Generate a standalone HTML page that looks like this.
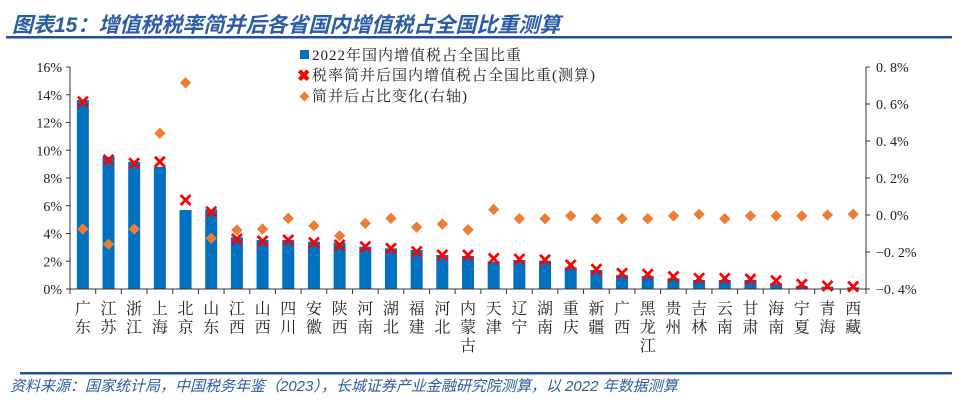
<!DOCTYPE html>
<html><head><meta charset="utf-8"><style>
body{margin:0;background:#fff;width:960px;height:405px;overflow:hidden}
svg text{font-family:"Liberation Serif","Noto Serif CJK SC",serif}
</style></head><body>
<svg width="960" height="405">
<text x="12" y="32" font-size="21" font-style="italic" font-weight="bold" fill="#2a5ca8" style="font-family:'Liberation Sans','Noto Sans CJK SC',sans-serif">图表15：增值税税率简并后各省国内增值税占全国比重测算</text>
<rect x="6" y="36" width="946" height="2.5" fill="#1f4e9c"/>
<g id="plot"></g>
<g>
<g><rect x="300" y="50" width="9" height="9" fill="#0070c0"/><text x="312" y="60" font-size="15" fill="#222" letter-spacing="1">2022年国内增值税占全国比重</text></g>
<g><text x="297" y="81" font-size="16" font-weight="bold" fill="#ff0000">✖</text><text x="312" y="80" font-size="15" fill="#222" letter-spacing="1">税率简并后国内增值税占全国比重(测算)</text></g>
<g><rect x="301" y="93" width="7" height="7" fill="#ed7d31" transform="rotate(45 304.5 96.5)"/><text x="312" y="101" font-size="15" fill="#222" letter-spacing="1">简并后占比变化(右轴)</text></g>
</g>
<rect x="20" y="372" width="932" height="2.5" fill="#1f4e9c"/>
<text x="10" y="391" font-size="15" font-style="italic" fill="#2a5ca8" style="font-family:'Liberation Sans','Noto Sans CJK SC',sans-serif">资料来源：国家统计局，中国税务年鉴（2023），长城证券产业金融研究院测算，以 2022 年数据测算</text>
</svg>
<script>
const categories=["广东","江苏","浙江","上海","北京","山东","江西","山西","四川","安徽","陕西","河南","湖北","福建","河北","内蒙古","天津","辽宁","湖南","重庆","新疆","广西","黑龙江","贵州","吉林","云南","甘肃","海南","宁夏","青海","西藏"];
const share2022=[13.62,9.53,9.17,8.81,5.69,5.74,3.73,3.53,3.53,3.41,3.34,3.05,2.93,2.81,2.45,2.38,1.97,2.09,2.04,1.56,1.37,1.0,0.94,0.77,0.65,0.65,0.65,0.41,0.22,0.17,0.12];
const shareAfter=[13.5,9.3,9.06,9.17,6.41,5.57,3.6,3.46,3.53,3.34,3.17,3.05,2.93,2.69,2.45,2.45,2.2,2.15,2.1,1.73,1.42,1.13,1.06,0.89,0.77,0.77,0.72,0.6,0.34,0.22,0.17];
const changePct=[-0.076,-0.158,-0.076,0.442,0.715,-0.126,-0.081,-0.076,-0.018,-0.058,-0.112,-0.045,-0.018,-0.066,-0.049,-0.08,0.03,-0.02,-0.02,-0.005,-0.02,-0.02,-0.02,-0.005,0.004,-0.02,-0.005,-0.005,-0.005,0,0.004];
const leftTicks=[0,2,4,6,8,10,12,14,16];
const rightTicks=[-0.4,-0.2,0,0.2,0.4,0.6,0.8];
const NS="http://www.w3.org/2000/svg";
const X0=70,X1=866,Y0=289,Y1=67;
const band=(X1-X0)/categories.length;
const xc=i=>X0+band*(i+0.5);
const yL=v=>Y0-(v/16)*(Y0-Y1);
const yR=v=>Y0-((v+0.4)/1.2)*(Y0-Y1);
const g=document.getElementById('plot');
function mk(t,a){const e=document.createElementNS(NS,t);for(const k in a)e.setAttribute(k,a[k]);g.appendChild(e);return e;}
share2022.forEach((v,i)=>{const e=mk('rect',{x:xc(i)-6,y:yL(v),width:12,height:Y0-yL(v),fill:'#0070c0'});

});
let a=mk('line',{x1:X0,y1:Y1,x2:X0,y2:Y0,stroke:'#333','stroke-width':1});


a=mk('line',{x1:X1,y1:Y1,x2:X1,y2:Y0,stroke:'#333','stroke-width':1});


a=mk('line',{x1:X0,y1:Y0,x2:X1,y2:Y0,stroke:'#333','stroke-width':1});


leftTicks.forEach(v=>{mk('line',{x1:X0-4,y1:yL(v),x2:X0,y2:yL(v),stroke:'#333'});
const t=mk('text',{x:X0-8,y:yL(v)+5,'font-size':14,'text-anchor':'end',fill:'#222'});t.textContent=v+'%';

});
rightTicks.forEach(v=>{mk('line',{x1:X1,y1:yR(v),x2:X1+4,y2:yR(v),stroke:'#333'});
const t=mk('text',{x:X1+10,y:yR(v)+5,'font-size':14,fill:'#222'});t.textContent=(v<0?'−':'')+Math.abs(v).toFixed(1).replace('.','. ')+'%';

});
for(let i=0;i<=categories.length;i++)mk('line',{x1:X0+band*i,y1:Y0,x2:X0+band*i,y2:Y0+5,stroke:'#333'});
categories.forEach((c,i)=>{[...c].forEach((ch,j)=>{const t=mk('text',{x:xc(i),y:314+j*18.5,'font-size':16,'text-anchor':'middle',fill:'#222'});t.textContent=ch;

});});
changePct.forEach((v,i)=>{const e=mk('rect',{x:xc(i)-4,y:yR(v)-4,width:8,height:8,fill:'#ed7d31',transform:`rotate(45 ${xc(i)} ${yR(v)})`});

});
shareAfter.forEach((v,i)=>{const x=xc(i),y=yL(v);const e=mk('path',{d:`M${x-5} ${y-5}L${x+5} ${y+5}M${x+5} ${y-5}L${x-5} ${y+5}`,stroke:'#ff0000','stroke-width':2.8});

});
</script>
</body></html>
